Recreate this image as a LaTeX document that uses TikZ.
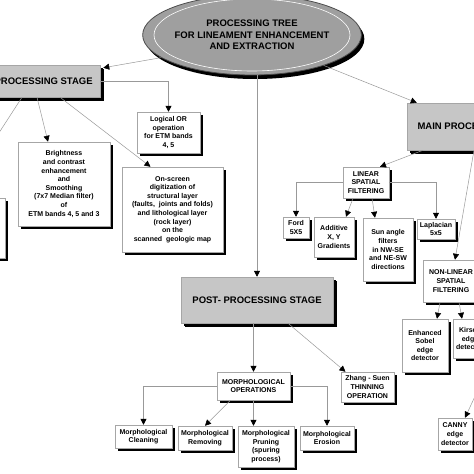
\documentclass[tikz,border=0pt]{standalone}
\usepackage{fontspec}
\setmainfont{Liberation Sans}
\usetikzlibrary{shapes.geometric,shadows,arrows.meta,calc}
\begin{document}
\begin{tikzpicture}[x=1pt,y=-1pt,
  box/.style={draw=gray!70, fill=white, line width=0.5pt, inner sep=0pt, align=center,
    font=\fontsize{7}{8.6}\selectfont\bfseries,
    drop shadow={shadow xshift=3pt,shadow yshift=-3pt,fill=black,opacity=1}},
  stage/.style={box, fill=gray!45, font=\fontsize{9.5}{11}\selectfont\bfseries,
    drop shadow={shadow xshift=4pt,shadow yshift=-4pt,fill=black,opacity=1}},
  conn/.style={draw=gray!80, line width=0.5pt, -{Triangle[length=6pt,width=6pt,color=black]}}]
\useasboundingbox (0,0) rectangle (474,474);
\clip (0,0) rectangle (474,474);
\fill[white] (0,0) rectangle (474,474);

% root ellipse
\node[ellipse, draw=gray!60!black, line width=0.8pt, fill=gray!75, minimum width=204pt, minimum height=80pt,
  inner sep=0pt, align=center, font=\fontsize{9.5}{11.5}\selectfont\bfseries,
  drop shadow={shadow xshift=3pt,shadow yshift=-4pt,fill=black,opacity=1}]
  (ell) at (252,35) {PROCESSING TREE\\FOR LINEAMENT ENHANCEMENT\\AND EXTRACTION};
\draw[white, line width=0.6pt] (ell.center) ellipse (98 and 36);

% stage boxes
\node[stage, minimum width=138pt, minimum height=32pt] (pre) at (31,81) {PRE- PROCESSING STAGE};
\node[stage, minimum width=146pt, minimum height=47pt] (main) at (480,126.5) {MAIN PROCESSING STAGE};
\node[stage, minimum width=152pt, minimum height=46pt] (post) at (257,300) {POST- PROCESSING STAGE};

% pre-processing children
\node[box, minimum width=75pt, minimum height=60pt] (leftcut) at (-32.5,228) {};
\node[box, minimum width=63pt, minimum height=41pt] (lor) at (168.5,132.5) {Logical OR\\operation\\for ETM bands\\4, 5};
\node[box, minimum width=92pt, minimum height=84pt] (bright) at (64,184) {Brightness\\and contrast\\enhancement\\and\\Smoothing\\(7x7 Median filter)\\of\\ETM bands 4, 5 and 3};
\node[box, minimum width=101pt, minimum height=85pt] (onscr) at (172.5,209.5) {On-screen\\digitization of\\structural layer\\(faults,\ \ joints and folds)\\and lithological layer\\(rock layer)\\on the\\scanned\ \ geologic map};

% main processing children
\node[box, minimum width=46pt, minimum height=31pt] (lin) at (366,182.5) {LINEAR\\SPATIAL\\FILTERING};
\node[box, minimum width=26pt, minimum height=21pt] (ford) at (296,227.5) {Ford\\5X5};
\node[box, minimum width=40pt, minimum height=40pt] (add) at (334,237) {Additive\\X, Y\\Gradients};
\node[box, minimum width=50pt, minimum height=63pt] (sun) at (388,249.5) {Sun angle\\filters\\in NW-SE\\and NE-SW\\directions};
\node[box, minimum width=38pt, minimum height=20pt] (lap) at (436,229) {Laplacian\\5x5};
\node[box, minimum width=56pt, minimum height=42pt] (nl) at (451,281) {NON-LINEAR\\SPATIAL\\FILTERING};
\node[box, minimum width=46pt, minimum height=53pt] (sobel) at (425,345.5) {Enhanced\\Sobel\\edge\\detector};
\node[box, minimum width=34pt, minimum height=39pt] (kirsch) at (470,338.5) {Kirsch\\edge\\detector};
\node[box, minimum width=34pt, minimum height=32pt] (canny) at (455,434) {CANNY\\edge\\detector};
\coordinate (cannysrc) at (492,360);

% post-processing children
\node[box, minimum width=73pt, minimum height=28pt] (morph) at (253.5,386) {MORPHOLOGICAL\\OPERATIONS};
\node[box, minimum width=53pt, minimum height=30pt] (zhang) at (367.5,387) {Zhang - Suen\\THINNING\\OPERATION};
\node[box, minimum width=57pt, minimum height=23pt] (clean) at (143.5,436.5) {Morphological\\Cleaning};
\node[box, minimum width=54pt, minimum height=24pt] (rem) at (205,438) {Morphological\\Removing};
\node[box, minimum width=56pt, minimum height=41pt] (prun) at (266,446.5) {Morphological\\Pruning\\(spuring\\process)};
\node[box, minimum width=54pt, minimum height=24pt] (ero) at (327,438) {Morphological\\Erosion};

% connectors
\draw[conn] (ell.194) -- ([xshift=3pt,yshift=-3pt]pre.north east);
\draw[conn] (ell.-23) -- ([xshift=10pt]main.north west);
\draw[conn] (ell.south -| post.north) -- (post.north);

\draw[conn] (pre.east) -| (lor.north);
\draw[conn] ([xshift=6pt]pre.south) -- ([xshift=-16pt]bright.north);
\draw[conn] ([xshift=29pt]pre.south) -- ([xshift=-22pt]onscr.north);
\draw[conn] ([xshift=-9pt]pre.south) -- ([xshift=-10.5pt]leftcut.north);

\draw[conn] ([xshift=-57pt]main.south) -- ([xshift=14pt]lin.north);
\draw[conn] ([xshift=-6pt]main.south) -- ([xshift=4pt]nl.north);
\draw[conn] (lin.west) -| (ford.north);
\draw[conn] (lin.east) -| (lap.north);
\draw[conn] ([xshift=-13pt]lin.south) -- ([xshift=12pt]add.north);
\draw[conn] ([xshift=6pt]lin.south) -- ([xshift=-13pt]sun.north);
\draw[conn] ([xshift=-11pt]nl.south) -- ([xshift=12pt]sobel.north);
\draw[conn] ([xshift=8pt]nl.south) -- ([xshift=-8pt]kirsch.north);
\draw[conn] (cannysrc) -- ([xshift=10pt]canny.north);

\draw[conn] (post.south -| morph.north) -- (morph.north);
\draw[conn] ([xshift=31pt]post.south) -- ([xshift=-22pt]zhang.north);
\draw[conn] (morph.west) -| (clean.north);
\draw[conn] ([xshift=-23pt]morph.south) -- (rem.north);
\draw[conn] (morph.south) -- (morph.south |- prun.north);
\draw[conn] (morph.east) -| (ero.north);
\end{tikzpicture}
\end{document}
